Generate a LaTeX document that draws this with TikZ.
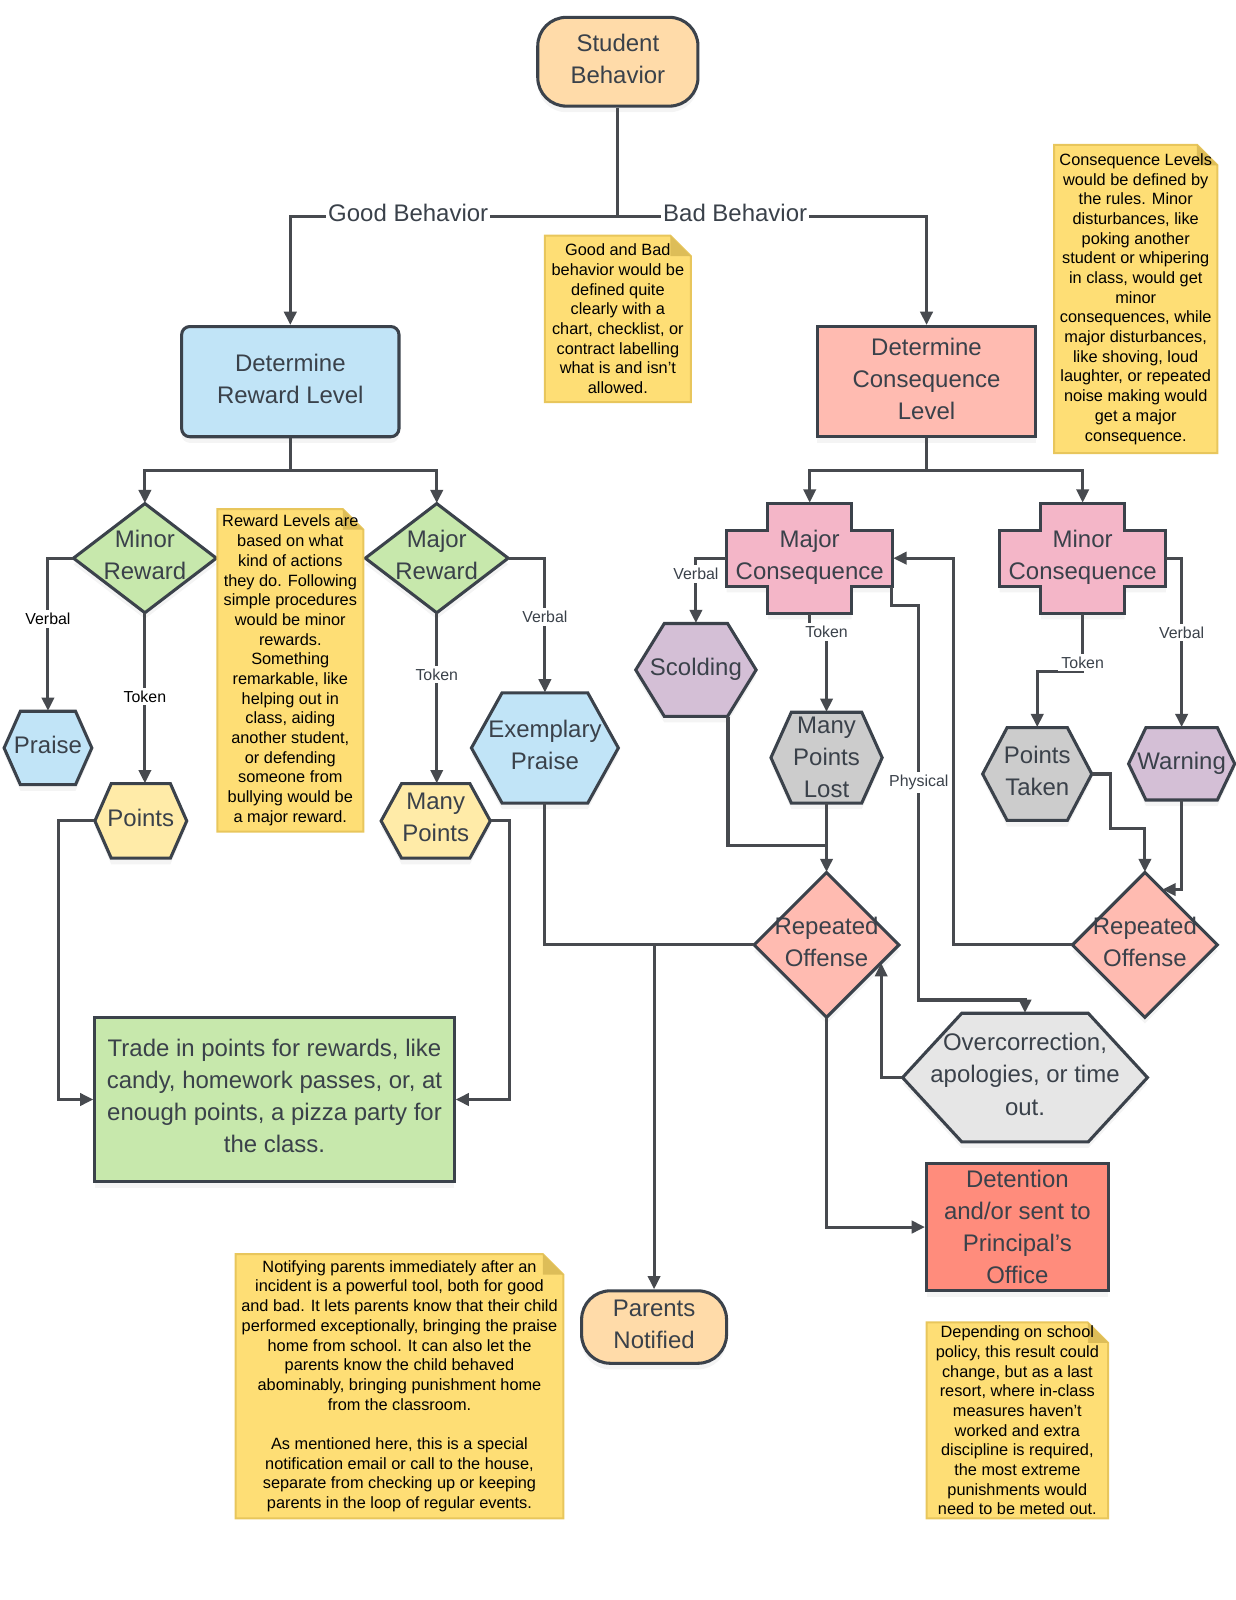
\documentclass[tikz,border=0pt]{standalone}
\usepackage{fontspec}
\setmainfont{Liberation Sans}
\usetikzlibrary{arrows.meta,calc,shadows}

\definecolor{edge}{HTML}{3B424B}
\definecolor{wire}{HTML}{474A4F}
\definecolor{ink}{HTML}{3A414A}
\definecolor{peach}{HTML}{FFDBA9}
\definecolor{sky}{HTML}{C1E4F7}
\definecolor{salmon}{HTML}{FFBBB1}
\definecolor{mint}{HTML}{C7E8AC}
\definecolor{butter}{HTML}{FFEBA8}
\definecolor{rose}{HTML}{F4B6C8}
\definecolor{lilac}{HTML}{D4BFD6}
\definecolor{stone}{HTML}{CCCCCC}
\definecolor{mist}{HTML}{E6E6E6}
\definecolor{coral}{HTML}{FF8C7C}
\definecolor{notefill}{HTML}{FEDE75}
\definecolor{noteline}{HTML}{E8C65C}
\definecolor{notefold}{HTML}{DDBD58}

\newcommand{\hexnode}[9][]{%
  \filldraw[shapeline, fill=#8] (#3-#5,#4) -- (#3-#5+#7,#4-#6) -- (#3+#5-#7,#4-#6)
    -- (#3+#5,#4) -- (#3+#5-#7,#4+#6) -- (#3-#5+#7,#4+#6) -- cycle;
  \node[inbox, minimum width=#5pt, minimum height=#6pt, #1] (#2) at (#3,#4) {#9};}
\newcommand{\diamnode}[7]{%
  \filldraw[shapeline, fill=#6] (#2-#4,#3) -- (#2,#3-#5) -- (#2+#4,#3) -- (#2,#3+#5) -- cycle;
  \node[inbox, minimum width=#4pt, minimum height=#5pt] (#1) at (#2,#3) {#7};}
\newcommand{\crossnode}[5]{%
  \filldraw[shapeline, fill=#4] (#2-41,#3-54) -- (#2+41,#3-54) -- (#2+41,#3-27.5)
    -- (#2+81.5,#3-27.5) -- (#2+81.5,#3+27.5) -- (#2+41,#3+27.5) -- (#2+41,#3+54)
    -- (#2-41,#3+54) -- (#2-41,#3+27.5) -- (#2-81.5,#3+27.5) -- (#2-81.5,#3-27.5)
    -- (#2-41,#3-27.5) -- cycle;
  \node[inbox, minimum width=81.5pt, minimum height=54pt] (#1) at (#2,#3) {#5};}
\newcommand{\stickynote}[6]{%
  \filldraw[fill=notefill, draw=noteline, line width=1pt] (#2,#3) -- (#4-20,#3) -- (#4,#3+20)
    -- (#4,#5) -- (#2,#5) -- cycle;
  \fill[notefold] (#4-20,#3) -- (#4-20,#3+20) -- (#4,#3+20) -- cycle;
  \node[notetext] (#1) at ({(#2+#4)/2},{(#3+#5)/2}) {#6};}

\begin{document}
\begin{tikzpicture}[x=0.5pt, y=-0.5pt,
    soft/.style={drop shadow={shadow xshift=0pt, shadow yshift=-3pt, opacity=0.09}},
    shapeline/.style={soft, draw=edge, line width=1.5pt},
    inbox/.style={inner sep=0pt, align=center, text=ink, text depth=3.2pt, font=\fontsize{11.75}{15.7}\selectfont},
    plainbox/.style={inbox, soft, draw=edge, line width=1.5pt},
    notetext/.style={inner sep=0pt, align=center, text=black, font=\fontsize{8}{9.65}\selectfont},
    conn/.style={draw=wire, line width=1.5pt},
    arr/.style={conn, -{Triangle[length=6.5pt, width=6pt]}},
    lbl/.style={fill=white, inner sep=1.5pt, text=ink, font=\fontsize{7.8}{9}\selectfont},
    biglbl/.style={fill=white, inner sep=1pt, text=ink, text depth=3.2pt, font=\fontsize{11.75}{14}\selectfont}]
  \useasboundingbox (0,0) rectangle (1211,1568);

  \node[plainbox, fill=peach, rounded corners=14pt, minimum width=78.5pt, minimum height=43.5pt] (sb) at (605.5,60.5) {Student\\Behavior};
  \node[plainbox, fill=sky, rounded corners=4pt, minimum width=106.5pt, minimum height=54pt] (drl) at (284.5,374) {Determine\\Reward Level};
  \node[plainbox, fill=salmon, minimum width=107pt, minimum height=54pt] (dcl) at (908,374) {Determine\\Consequence\\Level};

  \diamnode{minorR}{142}{547}{70}{53.5}{mint}{Minor\\Reward}
  \diamnode{majorR}{428}{547}{70}{53.5}{mint}{Major\\Reward}
  \crossnode{majorC}{793.5}{547}{rose}{Major\\Consequence}
  \crossnode{minorC}{1061}{547}{rose}{Minor\\Consequence}

  \hexnode{praise}{47}{733}{43}{36}{16}{sky}{Praise}
  \hexnode{points}{138}{804.5}{45}{36.5}{16}{butter}{Points}
  \hexnode{manyP}{427}{804.5}{53.5}{36.5}{20}{butter}{Many\\Points}
  \hexnode{exPraise}{534}{733}{72}{54}{30}{sky}{Exemplary\\Praise}
  \hexnode{scold}{682}{656.5}{59}{45.5}{28}{lilac}{Scolding}
  \hexnode[text depth=-2.8pt]{mpl}{810}{742.5}{54.5}{44.5}{20}{stone}{Many\\Points\\Lost}
  \hexnode{ptaken}{1016.5}{758.5}{53.5}{45.5}{24}{stone}{Points\\Taken}
  \hexnode{warn}{1158}{748.5}{52}{35.5}{17}{lilac}{Warning}
  \diamnode{rep1}{810}{926}{71}{71}{salmon}{Repeated\\Offense}
  \diamnode{rep2}{1122}{926}{71}{71}{salmon}{Repeated\\Offense}
  \hexnode{overc}{1004.5}{1056}{120}{63}{58}{mist}{Overcorrection,\\apologies, or time\\out.}

  \node[plainbox, fill=mint, minimum width=176pt, minimum height=80.5pt] (trade) at (269,1077.5) {Trade in points for rewards, like\\candy, homework passes, or, at\\enough points, a pizza party for\\the class.};
  \node[plainbox, fill=coral, text depth=0pt, minimum width=89pt, minimum height=62.5pt] (detent) at (997,1202.5) {Detention\\and/or sent to\\Principal's\\Office};
  \node[plainbox, fill=peach, rounded corners=14pt, minimum width=71pt, minimum height=35.5pt] (parents) at (641,1300.5) {Parents\\Notified};

  \stickynote{noteBehav}{534}{231}{677}{394}{Good and Bad\\behavior would be\\defined quite\\clearly with a\\chart, checklist, or\\contract labelling\\what is and isn't\\allowed.}
  \stickynote{noteConseq}{1033}{142}{1193}{444}{Consequence Levels\\would be defined by\\the rules. Minor\\disturbances, like\\poking another\\student or whipering\\in class, would get\\minor\\consequences, while\\major disturbances,\\like shoving, loud\\laughter, or repeated\\noise making would\\get a major\\consequence.}
  \stickynote{noteReward}{213}{499}{356}{815}{Reward Levels are\\based on what\\kind of actions\\they do. Following\\simple procedures\\would be minor\\rewards.\\Something\\remarkable, like\\helping out in\\class, aiding\\another student,\\or defending\\someone from\\bullying would be\\a major reward.}
  \stickynote{noteParents}{231}{1229}{552}{1488}{Notifying parents immediately after an\\incident is a powerful tool, both for good\\and bad. It lets parents know that their child\\performed exceptionally, bringing the praise\\home from school. It can also let the\\parents know the child behaved\\abominably, bringing punishment home\\from the classroom.\\[9.65pt]As mentioned here, this is a special\\notification email or call to the house,\\separate from checking up or keeping\\parents in the loop of regular events.}
  \stickynote{noteDetent}{908}{1296}{1086}{1488}{Depending on school\\policy, this result could\\change, but as a last\\resort, where in-class\\measures haven't\\worked and extra\\discipline is required,\\the most extreme\\punishments would\\need to be meted out.}

  \coordinate (fork) at (605.5,212);
  \draw[conn] (sb.south) -- (fork);
  \draw[arr] (fork) -| node[pos=0.32, biglbl] {Good Behavior} (drl.north);
  \draw[arr] (fork) -| node[pos=0.19, biglbl] {Bad Behavior} (dcl.north);

  \draw[conn] (drl.south) -- ++(0,32) coordinate (rfork);
  \draw[arr] (rfork) -| (minorR.north);
  \draw[arr] (rfork) -| (majorR.north);
  \draw[conn] (dcl.south) -- ++(0,32) coordinate (cfork);
  \draw[arr] (cfork) -| (majorC.north);
  \draw[arr] (cfork) -| (minorC.north);

  \draw[arr] (minorR.west) -| node[pos=0.7, lbl, text=black] {Verbal} (praise.north);
  \draw[arr] (minorR.south) -- node[pos=0.49, lbl, text=black] {Token} (minorR.south |- points.north);
  \draw[arr] (majorR.south) -- node[pos=0.36, lbl] {Token} (majorR.south |- manyP.north);
  \draw[arr] (majorR.east) -| node[pos=0.72, lbl] {Verbal} (exPraise.north);
  \draw[arr] (points.west) -- ++(-35,0) |- (trade.west);
  \draw[arr] (manyP.east) -- ++(18,0) |- (trade.east);
  \draw[conn] (exPraise.south) |- (rep1.west);
  \draw[arr] (rep1.west) -| (parents.north);

  \draw[arr] (majorC.west) -| node[pos=0.62, lbl] {Verbal} (scold.north);
  \draw[arr] (majorC.south) -- ++(0,18) -| node[pos=0.5, lbl] {Token} (mpl.north);
  \draw[conn] ($(scold.south east)+(-28,0)$) |- ($(mpl.south)+(0,41)$);
  \draw[arr] (mpl.south) -- (rep1.north);
  \coordinate (phys) at ($(majorC.east)+(-2,28)$);
  \draw[arr] (phys) -- ++(0,18) -| node[pos=0.725, lbl] {Physical} ++(27,387) -| (overc.north);

  \draw[arr] (minorC.south) -- node[pos=0.84, lbl] {Token} ++(0,57) -| (ptaken.north);
  \draw[arr] (minorC.east) -| node[pos=0.72, lbl] {Verbal} (warn.north);
  \draw[arr] (ptaken.east) -- ++(18,0) |- ($(rep2.north)+(0,-43)$) -- (rep2.north);
  \draw[arr] (warn.south) |- ($(rep2.north)!0.24!(rep2.east)$);
  \draw[arr] (rep2.west) -- ++(-116,0) |- (majorC.east);
  \draw[arr] (overc.west) -| ($(rep1.east)!0.25!(rep1.south)$);
  \draw[arr] (rep1.south) |- (detent.west);
\end{tikzpicture}
\end{document}
